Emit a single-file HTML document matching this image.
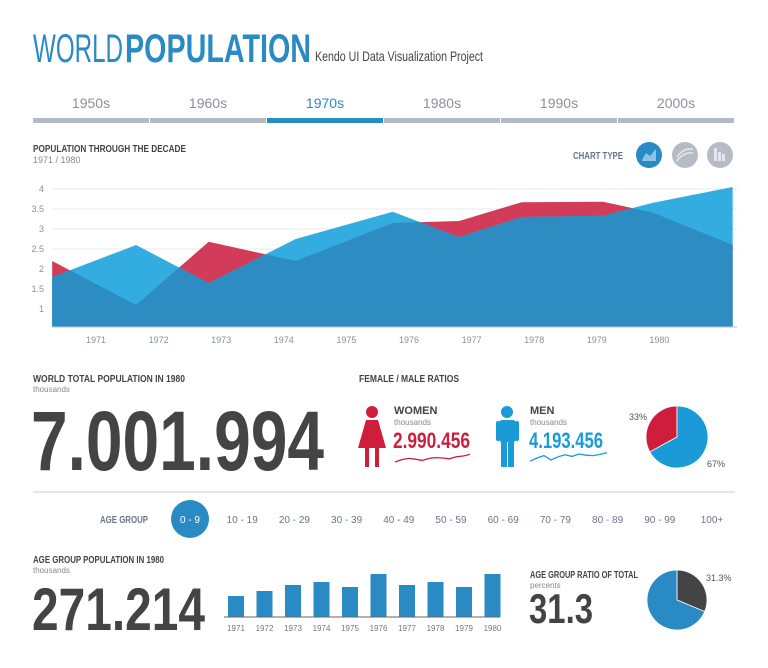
<!DOCTYPE html>
<html><head><meta charset="utf-8"><style>
html,body{margin:0;padding:0;background:#fff;}
svg{display:block;font-family:"Liberation Sans",sans-serif;}
</style></head><body>
<svg id="s" width="768" height="668" viewBox="0 0 768 668" xmlns="http://www.w3.org/2000/svg">
<g>
<text x="33" y="62" font-size="40" fill="#2a8ac4" textLength="90" lengthAdjust="spacingAndGlyphs">WORLD</text>
<text x="125" y="62" font-size="40" font-weight="bold" fill="#2a8ac4" textLength="186" lengthAdjust="spacingAndGlyphs">POPULATION</text>
<text x="315" y="61" font-size="14" fill="#444" textLength="168" lengthAdjust="spacingAndGlyphs">Kendo UI Data Visualization Project</text>
</g>
<g id="tabs"></g>
<text x="33" y="152" font-size="10" font-weight="bold" fill="#444" textLength="153" lengthAdjust="spacingAndGlyphs">POPULATION THROUGH THE DECADE</text>
<text x="33" y="163" font-size="9" fill="#888">1971 / 1980</text>
<text x="573" y="159" font-size="10" font-weight="bold" fill="#6a7585" textLength="50" lengthAdjust="spacingAndGlyphs">CHART TYPE</text>
<g><circle cx="649" cy="155" r="13" fill="#2a8ac4"/><path d="M642 160 L646 153 L650 156 L656 149 L656 161 L642 161Z" fill="#8cc4e6"/></g>
<g><circle cx="685" cy="155" r="13" fill="#b5bcc6"/><path d="M677 161 Q683 152 693 153 M677 157 Q683 148 693 149" stroke="#e4e8ec" stroke-width="1.5" fill="none"/></g>
<g><circle cx="720" cy="155" r="13" fill="#b5bcc6"/><rect x="714" y="148" width="3" height="13" fill="#e4e8ec"/><rect x="718" y="152" width="3" height="9" fill="#e4e8ec"/><rect x="722" y="154" width="3" height="7" fill="#e4e8ec"/></g>
<g id="area"></g>

<text x="33" y="382" font-size="10" font-weight="bold" fill="#444" textLength="152" lengthAdjust="spacingAndGlyphs">WORLD TOTAL POPULATION IN 1980</text>
<text x="33" y="392" font-size="8" fill="#888">thousands</text>
<text x="31" y="470" font-size="84" font-weight="bold" fill="#444" textLength="293" lengthAdjust="spacingAndGlyphs">7.001.994</text>

<text x="359" y="382" font-size="10" font-weight="bold" fill="#444" textLength="100" lengthAdjust="spacingAndGlyphs">FEMALE / MALE RATIOS</text>
<g fill="#cf1e3c">
<circle cx="372" cy="412" r="6"/><path d="M366 420 L378 420 L386 448 L379 448 L379 467 L375 467 L375 448 L369 448 L369 467 L365 467 L365 448 L358 448Z"/></g>
<text x="394" y="414" font-size="11" font-weight="bold" fill="#444">WOMEN</text>
<text x="394" y="425" font-size="8" fill="#888">thousands</text>
<text x="393" y="448" font-size="22" font-weight="bold" fill="#cf1e3c" textLength="77" lengthAdjust="spacingAndGlyphs">2.990.456</text>
<polyline id="wsp" fill="none" stroke="#cf1e3c" stroke-width="1.3"/>
<g fill="#1a9ad6">
<circle cx="507" cy="412" r="6"/><rect x="499" y="420" width="17" height="22" rx="3"/><rect x="496" y="421" width="4" height="20" rx="2"/><rect x="515" y="421" width="4" height="20" rx="2"/><rect x="501" y="440" width="6" height="27"/><rect x="508" y="440" width="6" height="27"/></g>
<text x="530" y="414" font-size="11" font-weight="bold" fill="#444">MEN</text>
<text x="530" y="425" font-size="8" fill="#888">thousands</text>
<text x="529" y="448" font-size="22" font-weight="bold" fill="#1a9ad6" textLength="74" lengthAdjust="spacingAndGlyphs">4.193.456</text>
<polyline id="msp" fill="none" stroke="#1a9ad6" stroke-width="1.3"/>
<g id="pie1"></g>
<text x="629" y="420" font-size="9" fill="#555">33%</text>
<text x="707" y="467" font-size="9" fill="#555">67%</text>

<line x1="33" y1="492" x2="735" y2="492" stroke="#ccc" stroke-width="1"/>
<text x="100" y="523" font-size="10" font-weight="bold" fill="#6a7585" textLength="48" lengthAdjust="spacingAndGlyphs">AGE GROUP</text>
<g id="ages"></g>

<text x="33" y="563" font-size="10" font-weight="bold" fill="#444" textLength="131" lengthAdjust="spacingAndGlyphs">AGE GROUP POPULATION IN 1980</text>
<text x="33" y="573" font-size="8" fill="#888">thousands</text>
<text x="32" y="630" font-size="60" font-weight="bold" fill="#444" textLength="173" lengthAdjust="spacingAndGlyphs">271.214</text>
<g id="bars"></g>
<text x="530" y="578" font-size="10" font-weight="bold" fill="#444" textLength="108" lengthAdjust="spacingAndGlyphs">AGE GROUP RATIO OF TOTAL</text>
<text x="530" y="588" font-size="8" fill="#888">percents</text>
<text x="529" y="623" font-size="42" font-weight="bold" fill="#444" textLength="64" lengthAdjust="spacingAndGlyphs">31.3</text>
<g id="pie2"></g>
<text x="706" y="581" font-size="9" fill="#555">31.3%</text>
</svg>
<script>
const decades=["1950s","1960s","1970s","1980s","1990s","2000s"];
const years=["1971","1972","1973","1974","1975","1976","1977","1978","1979","1980"];
const times=[1970.3,1971.64,1972.8,1974.19,1975.74,1976.8,1977.8,1979.1,1979.88,1981.17];
const seriesFemale=[2.2,1.1,2.68,2.2,3.15,3.2,3.67,3.68,3.42,2.6];
const seriesMale=[1.8,2.6,1.65,2.75,3.43,2.8,3.3,3.33,3.65,4.05];
const yTicks=[1,1.5,2,2.5,3,3.5,4];
const womenSpark=[1.0,1.6,1.9,1.7,1.4,1.9,2.1,2.0,1.8,2.3,2.5,2.9];
const menSpark=[1.2,2.0,2.6,1.5,2.3,2.8,2.4,3.0,2.7,2.6,2.9,3.3];
const genderShares=[33,67];
const ageGroups=["0 - 9","10 - 19","20 - 29","30 - 39","40 - 49","50 - 59","60 - 69","70 - 79","80 - 89","90 - 99","100+"];
const agePop=[21,26,32,35,30,43,32,35,30,43];
const ageRatio=[31.3];

const NS="http://www.w3.org/2000/svg";
function mk(tag,attrs,parent){const e=document.createElementNS(NS,tag);for(const k in attrs)e.setAttribute(k,attrs[k]);parent.appendChild(e);return e;}

const tabs=document.getElementById('tabs');
decades.forEach((d,i)=>{
  const x0=33+i*117;
  const g=mk('g',{},tabs);
  
  
  const act=d==="1970s";
  mk('rect',{x:x0,y:118,width:116,height:5,fill:act?'#2a8ac4':'#b3bac4'},g);
  const t=mk('text',{x:x0+58,y:108,'font-size':14,'text-anchor':'middle',fill:act?'#2a8ac4':'#8a919b'},g);
  t.textContent=d;
});

const area=document.getElementById('area');
const X=t=>96+(t-1971)*62.6;
const Y=v=>309-(v-1)*40;
const base=327;
yTicks.forEach(v=>{
  if(v>=2.5){const l=mk('line',{x1:52,x2:737,y1:Y(v),y2:Y(v),stroke:'#e6e8ec'},area);
  
  }
  const t=mk('text',{x:44,y:Y(v)+3,'font-size':9,'text-anchor':'end',fill:'#8a919b'},area);
  
  
  t.textContent=v;
});
function poly(vals){let p=vals.map((v,i)=>X(times[i])+','+Y(v));return X(times[0])+','+base+' '+p.join(' ')+' '+X(times[times.length-1])+','+base;}
const pf=mk('polygon',{points:poly(seriesFemale),fill:'#d33c58'},area);


const pm=mk('polygon',{points:poly(seriesMale),fill:'#33ace0'},area);


let pts=[];
for(let i=0;i<times.length;i++){
  pts.push([X(times[i]),Math.min(seriesFemale[i],seriesMale[i])]);
  if(i<times.length-1){
    const d0=seriesFemale[i]-seriesMale[i],d1=seriesFemale[i+1]-seriesMale[i+1];
    if(d0*d1<0){const f=d0/(d0-d1);const t=times[i]+f*(times[i+1]-times[i]);
      pts.push([X(t),seriesFemale[i]+f*(seriesFemale[i+1]-seriesFemale[i])]);}
  }
}
const ov=mk('polygon',{points:X(times[0])+','+base+' '+pts.map(p=>p[0]+','+Y(p[1])).join(' ')+' '+X(times[times.length-1])+','+base,fill:'#2d8cc1'},area);


const ax=mk('line',{x1:52,x2:737,y1:base,y2:base,stroke:'#b9c0c8'},area);


years.forEach((y,i)=>{
  const t=mk('text',{x:96+i*62.6,y:343,'font-size':9,'text-anchor':'middle',fill:'#8a919b'},area);
  
  
  t.textContent=y;
});

function spark(id,vals,x0,x1,yb){
  const el=document.getElementById(id);
  el.setAttribute('points',vals.map((v,i)=>(x0+i*(x1-x0)/(vals.length-1))+','+(yb-v*4)).join(' '));
}
spark('wsp',womenSpark,395,470,466);
spark('msp',menSpark,530,607,466);

function pie(id,cx,cy,r,shares,colors,dir){
  const g=document.getElementById(id);
  let a=-Math.PI/2;const tot=shares.reduce((s,v)=>s+v,0);
  shares.forEach((s,i)=>{
    const da=dir*2*Math.PI*s/tot;const a2=a+da;
    const large=Math.abs(da)>Math.PI?1:0;
    const p=mk('path',{d:`M${cx},${cy} L${cx+r*Math.cos(a)},${cy+r*Math.sin(a)} A${r},${r} 0 ${large} ${dir>0?1:0} ${cx+r*Math.cos(a2)},${cy+r*Math.sin(a2)}Z`,fill:colors[i],stroke:'#fff','stroke-width':0.8},g);
    
    
    a=a2;
  });
}
pie('pie1',677,437,31,genderShares,['#cf1e3c','#1a9ad6'],-1);
pie('pie2',677,600,30,[ageRatio[0],100-ageRatio[0]],['#444447','#2a8ac4'],1);

const ages=document.getElementById('ages');
ageGroups.forEach((a,i)=>{
  const cx=190+i*52.2;
  const g=mk('g',{},ages);
  
  
  if(i===0)mk('circle',{cx:cx,cy:519,r:19,fill:'#2a8ac4'},g);
  const t=mk('text',{x:cx,y:523,'font-size':10,'text-anchor':'middle',fill:i===0?'#fff':'#6a7585'},g);
  t.textContent=a;
});

const bars=document.getElementById('bars');
const bb=617,bx0=228,bstep=28.5,bw=16,bmax=45,bh=45;
agePop.forEach((v,i)=>{
  const h=v/bmax*bh;
  const r=mk('rect',{x:bx0+i*bstep,y:bb-h,width:bw,height:h,fill:'#2a8ac4'},bars);
  
  
  const t=mk('text',{x:bx0+i*bstep+bw/2,y:631,'font-size':8,'text-anchor':'middle',fill:'#777'},bars);
  
  
  t.textContent=years[i];
});
const bl=mk('line',{x1:224,x2:500,y1:bb,y2:bb,stroke:'#666'},bars);


</script>
</body></html>
